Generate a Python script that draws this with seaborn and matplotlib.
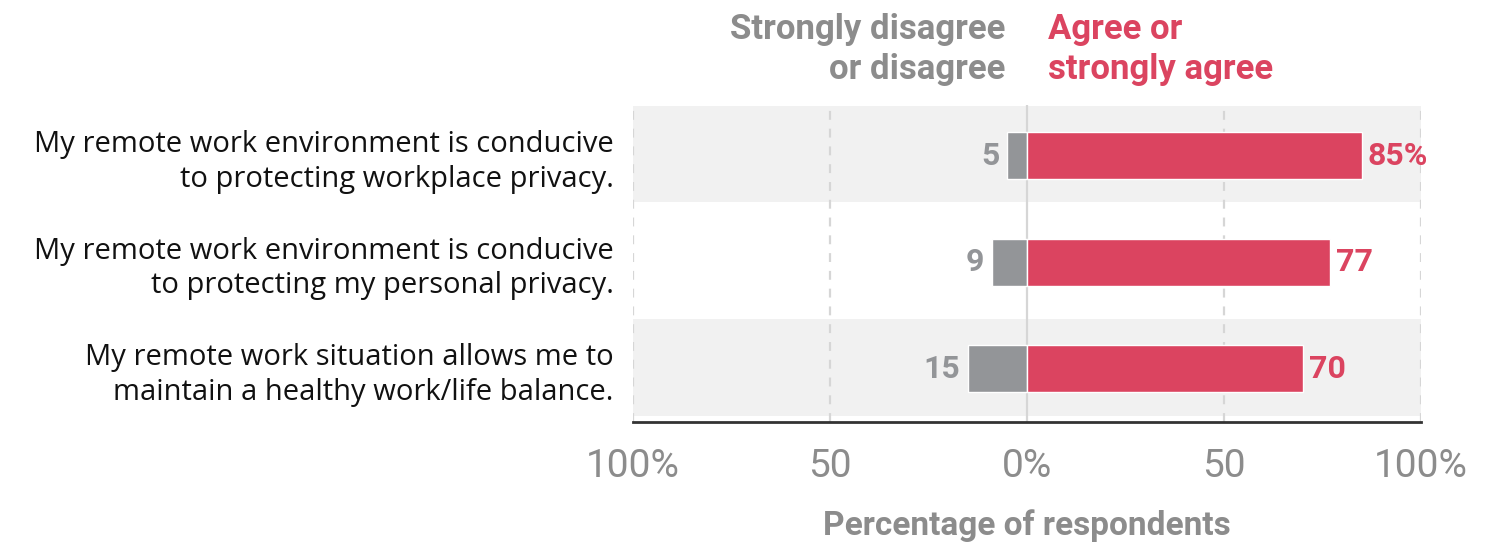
import matplotlib
matplotlib.use("Agg")
import matplotlib.pyplot as plt
import numpy as np
import pandas as pd
import seaborn as sb

# data
statements = ["My remote work environment is conducive\nto protecting workplace privacy.",
              "My remote work environment is conducive\nto protecting my personal privacy.",
              "My remote work situation allows me to\nmaintain a healthy work/life balance."]
disagree = [5, 9, 15]
agree = [85, 77, 70]
tick_pos = [-100, -50, 0, 50, 100]
tick_txt = ["100%", "50", "0%", "50", "100%"]

red = "#DB4460"
grey = "#939598"
txtgrey = "#8C8C8C"

sb.set_style("white")
plt.rcParams['font.family'] = ['Roboto', 'DejaVu Sans']

df = pd.DataFrame({"statement": statements,
                   "disagree": [-v for v in disagree],
                   "agree": agree})

fig = plt.figure(figsize=(14.96, 5.52), dpi=100)
ax = fig.add_axes([633/1496, 1-422/552, (1421-633)/1496, (422-105)/552])

# background bands on rows 1 and 3
for i in [0, 2]:
    ax.axhspan(i-0.47, i+0.44, color="#F1F1F1", zorder=0, lw=0)

for xv in [-100, -50, 50, 100]:
    ax.axvline(xv, color="#D6D6D6", lw=1.6, ls=(0, (4, 4)), zorder=0.5)
ax.axvline(0, color="#D6D6D6", lw=1.6, zorder=0.5)

sb.barplot(data=df, x="disagree", y="statement", color=grey, width=0.44,
           orient="h", ax=ax, saturation=1, zorder=2)
sb.barplot(data=df, x="agree", y="statement", color=red, width=0.44,
           orient="h", ax=ax, saturation=1, zorder=2)

for i, (d, a) in enumerate(zip(disagree, agree)):
    ax.text(-d-2.0, i, str(d), ha="right", va="center", color=grey,
            fontsize=23, fontweight="bold")
    lab = f"{a}%" if i == 0 else str(a)
    ax.text(a+1.5, i, lab, ha="left", va="center", color=red,
            fontsize=23, fontweight="bold")

ax.set_xlim(-100, 100)
ax.set_ylim(2.5, -0.475)
ax.set_xticks(tick_pos)
ax.set_xticklabels(tick_txt, fontsize=28, color=txtgrey)
ax.tick_params(axis="x", length=0, pad=19)
ax.tick_params(axis="y", length=0, pad=14)
for t in ax.get_yticklabels():
    t.set_fontsize(21)
    t.set_family(['Open Sans', 'DejaVu Sans'])
    t.set_color("#111111")
    t.set_ha("right")
    t.set_linespacing(1.25)
ax.set_ylabel("")
ax.set_xlabel("Percentage of respondents", fontsize=24, fontweight="bold",
              color=txtgrey, labelpad=17)

for s in ["top", "right", "left"]:
    ax.spines[s].set_visible(False)
ax.spines["bottom"].set_color("#333333")
ax.spines["bottom"].set_linewidth(2)

fig.text(1005/1496, 1-13/552, "Strongly disagree\nor disagree", ha="right", va="top",
         fontsize=25, fontweight="bold", color=txtgrey, linespacing=1.25)
fig.text(1048/1496, 1-13/552, "Agree or\nstrongly agree", ha="left", va="top",
         fontsize=25, fontweight="bold", color=red, linespacing=1.25)

plt.savefig("out.png", dpi=100)
